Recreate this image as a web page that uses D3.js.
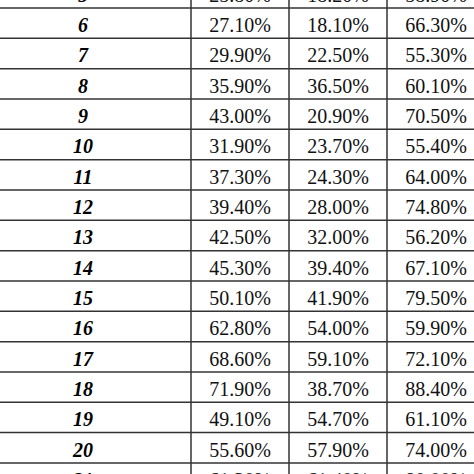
<!DOCTYPE html>
<html>
<head>
<meta charset="utf-8">
<script src="https://cdn.jsdelivr.net/npm/d3@7"></script>
<style>
  body { margin: 0; background: #fff; }
  svg { display: block; }
</style>
</head>
<body>
<svg id="table"></svg>
<script>
// row labels (first and last rows are only partly visible)
let rows = [5, 6, 7, 8, 9, 10, 11, 12, 13, 14, 15, 16, 17, 18, 19, 20, 21];
let colA = [25.8, 27.1, 29.9, 35.9, 43.0, 31.9, 37.3, 39.4, 42.5, 45.3, 50.1, 62.8, 68.6, 71.9, 49.1, 55.6, 61.3];
let colB = [18.2, 18.1, 22.5, 36.5, 20.9, 23.7, 24.3, 28.0, 32.0, 39.4, 41.9, 54.0, 59.1, 38.7, 54.7, 57.9, 61.4];
let colC = [58.9, 66.3, 55.3, 60.1, 70.5, 55.4, 64.0, 74.8, 56.2, 67.1, 79.5, 59.9, 72.1, 88.4, 61.1, 74.0, 80.0];

let W = 474, H = 474;
let svg = d3.select('#table').attr('width', W).attr('height', H);

// row band: row "6" starts at y=8, ~30.3px per row
let rowH = 30.33;
let y = d3.scaleLinear().domain([0, 1]).range([8 - rowH, 8]);

let colEdges = [0, 191, 289, 387, 485];
let x = d3.scaleOrdinal().domain([0, 1, 2, 3]).range([83, 240, 338, 436]);

let fmt = v => v.toFixed(2) + '%';

// horizontal rules
svg.selectAll('.hline')
  .data(d3.range(rows.length + 1))
  .enter().append('line')
  .attr('x1', 0).attr('x2', W)
  .attr('y1', i => y(i)).attr('y2', i => y(i))
  .attr('stroke', '#333').attr('stroke-width', 1.5);

// vertical rules
svg.selectAll('.vline')
  .data(colEdges.slice(1, 4))
  .enter().append('line')
  .attr('x1', d => d).attr('x2', d => d)
  .attr('y1', 0).attr('y2', H)
  .attr('stroke', '#333').attr('stroke-width', 1.5);

let g = svg.selectAll('.row')
  .data(rows.map((r, i) => ({ r: r, vals: [colA[i], colB[i], colC[i]], i: i })))
  .enter().append('g')
  .attr('transform', d => 'translate(0,' + (y(d.i) + rowH / 2 + 9) + ')');

g.append('text')
  .attr('x', x(0))
  .attr('text-anchor', 'middle')
  .style('font-family', 'Liberation Serif')
  .style('font-weight', 'bold')
  .style('font-style', 'italic')
  .style('font-size', '20px')
  .text(d => d.r);

[1, 2, 3].forEach(c => {
  g.append('text')
    .attr('x', x(c))
    .attr('text-anchor', 'middle')
    .style('font-family', 'Liberation Serif')
    .style('font-size', '20px')
    .attr('fill', '#111')
    .text(d => fmt(d.vals[c - 1]));
});
</script>
</body>
</html>
